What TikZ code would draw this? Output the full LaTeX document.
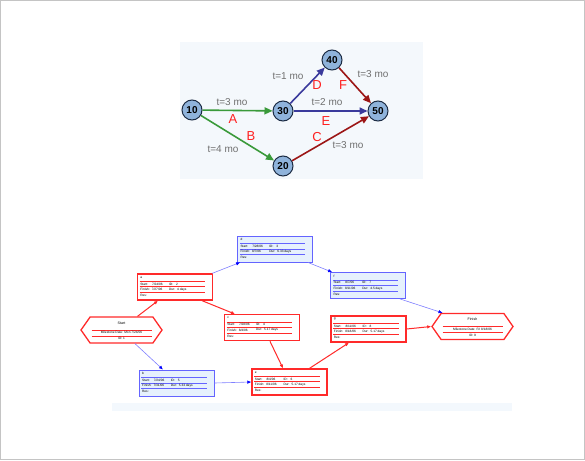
\documentclass[tikz,border=0pt]{standalone}
\usepackage{fontspec}
\setmainfont{Liberation Sans}
\usetikzlibrary{arrows.meta,shapes.symbols}

\definecolor{framegray}{HTML}{C4C4C4}
\definecolor{panelbg}{HTML}{F4F8FC}
\definecolor{stripbg}{HTML}{F3F8FD}
\definecolor{nodefill}{HTML}{8FB3DB}
\definecolor{nodeline}{HTML}{1C2C44}
\definecolor{actgreen}{HTML}{3A9A3A}
\definecolor{actblue}{HTML}{3A3A9C}
\definecolor{actred}{HTML}{9C1616}
\definecolor{durgray}{HTML}{707070}
\definecolor{letred}{HTML}{FF2020}
\definecolor{critred}{HTML}{FF2A2A}
\definecolor{taskblue}{HTML}{6464FF}
\definecolor{linkblue}{HTML}{8080FF}
\definecolor{taskfill}{HTML}{E6F1FD}

\tikzset{
  event/.style={draw=nodeline,circle,fill=nodefill,line width=1,minimum size=20,inner sep=0,
    font=\fontsize{10}{10}\selectfont\bfseries},
  act/.style={-{Triangle[length=8,width=7]},line width=1.6},
  dur/.style={text=durgray,font=\fontsize{10}{10}\selectfont,inner sep=0},
  letter/.style={text=letred,font=\fontsize{13}{13}\selectfont,inner sep=0},
  redbox/.style={draw=critred,line width=1.3,fill=white,minimum width=75,minimum height=26,inner sep=0},
  bluebox/.style={draw=taskblue,line width=0.8,fill=taskfill,minimum width=75,minimum height=26,inner sep=0},
  milestone/.style={draw=critred,line width=1.3,fill=white,shape=signal,signal to=east and west,
    signal pointer angle=110,minimum width=81,minimum height=26,inner sep=0},
  redlink/.style={critred,line width=1,-{Latex[length=4,width=3.5]}},
  bluelink/.style={linkblue,line width=0.6,-{Latex[length=4,width=3.5,color=blue]}},
  tinytext/.style={font=\fontsize{3.2}{3.2}\selectfont,inner sep=0,anchor=west},
  tinymid/.style={font=\fontsize{3.2}{3.2}\selectfont,inner sep=0},
}

% task box: name, colour, title, start, id, finish, duration
\newcommand\taskinfo[7]{%
  \draw[#2,line width=0.5]
    ([shift={(2.7,8)}]#1.north west) -- ([shift={(-7.7,8)}]#1.north east)
    ([shift={(2.7,13.3)}]#1.north west) -- ([shift={(-7.7,13.3)}]#1.north east)
    ([shift={(2.7,19)}]#1.north west) -- ([shift={(-7.7,19)}]#1.north east);
  \node[tinytext] (#1-name) at ([shift={(3.3,4)}]#1.north west) {#3};
  \node[tinytext] (#1-start) at ([shift={(3.3,10.7)}]#1.north west) {Start:\hspace{4pt}#4};
  \node[tinytext] (#1-id) at ([shift={(32,10.7)}]#1.north west) {ID:\hspace{3pt}#5};
  \node[tinytext] (#1-finish) at ([shift={(3.3,16.1)}]#1.north west) {Finish:\hspace{2pt}#6};
  \node[tinytext] (#1-dur) at ([shift={(32,16.1)}]#1.north west) {Dur:\hspace{2pt}#7};
  \node[tinytext] (#1-res) at ([shift={(3.3,22.3)}]#1.north west) {Res:};
}

% milestone: name, title, date line, id line
\newcommand\mileinfo[4]{%
  \draw[critred,line width=0.5]
    ([shift={(-30,13.5)}]#1.north) -- ([shift={(30,13.5)}]#1.north)
    ([shift={(-30,19.5)}]#1.north) -- ([shift={(30,19.5)}]#1.north);
  \node[tinymid,font=\fontsize{3.6}{3.6}\selectfont] (#1-name) at ([shift={(0,6.5)}]#1.north) {#2};
  \node[tinymid] (#1-date) at ([shift={(0,16.5)}]#1.north) {#3};
  \node[tinymid] (#1-id) at ([shift={(0,22.5)}]#1.north) {#4};
}

\begin{document}
\begin{tikzpicture}[x=1pt,y=-1pt]
\useasboundingbox (0,0) rectangle (585,460);
\fill[white] (0,0) rectangle (585,460);
\draw[framegray,line width=1] (0.5,0.5) rectangle (584.5,459.5);

% activity-on-arrow network
\fill[panelbg] (180,42) rectangle (423,179);
\node[event] (e10) at (192,110) {10};
\node[event] (e30) at (283,111) {30};
\node[event] (e40) at (332,60) {40};
\node[event] (e50) at (378,111) {50};
\node[event] (e20) at (283,166) {20};
\draw[act,actgreen] (e10) -- (e30);
\draw[act,actgreen] (e10) -- (e20);
\draw[act,actblue] (e30) -- (e40);
\draw[act,actblue] (e30) -- (e50);
\draw[act,actred] (e20) -- (e50);
\draw[act,actred] (e40) -- (e50);
\node[dur] (tA) at (232,102) {t=3 mo};
\node[letter] (lA) at (233,119) {A};
\node[dur] (tB) at (223,149) {t=4 mo};
\node[letter] (lB) at (251,136) {B};
\node[dur] (tD) at (288,76) {t=1 mo};
\node[letter] (lD) at (317,85) {D};
\node[dur] (tF) at (373,74) {t=3 mo};
\node[letter] (lF) at (343,85) {F};
\node[dur] (tE) at (327,102) {t=2 mo};
\node[letter] (lE) at (326,121) {E};
\node[dur] (tC) at (348,145) {t=3 mo};
\node[letter] (lC) at (317,137) {C};

% activity-on-node network
\fill[stripbg] (112,403) rectangle (512,411);
\node[milestone] (start) at (121.5,330) {};
\node[redbox] (a) at (175,287) {};
\node[bluebox] (b) at (176.5,383) {};
\node[redbox] (c) at (262,327.7) {};
\node[bluebox] (d) at (275,249) {};
\node[redbox] (e) at (289.5,382) {};
\node[bluebox] (f) at (368,285.5) {};
\node[redbox] (g) at (368.5,329) {};
\node[milestone] (finish) at (472.5,326.5) {};

\mileinfo{start}{Start}{Milestone Date: Mon 7/24/06}{ID: 1}
\taskinfo{a}{critred}{a}{7/24/06}{2}{7/27/06}{4 days}
\taskinfo{b}{taskblue}{b}{7/24/06}{5}{7/31/06}{5.33 days}
\taskinfo{c}{critred}{c}{7/28/06}{4}{8/4/06}{5.17 days}
\taskinfo{d}{taskblue}{d}{7/28/06}{3}{8/7/06}{6.33 days}
\taskinfo{e}{critred}{e}{8/4/06}{6}{8/11/06}{5.17 days}
\taskinfo{f}{taskblue}{f}{8/7/06}{7}{8/11/06}{4.5 days}
\taskinfo{g}{critred}{g}{8/11/06}{8}{8/18/06}{5.17 days}
\mileinfo{finish}{Finish}{Milestone Date: Fri 8/18/06}{ID: 9}

\draw[redlink] ([xshift=16]start.north) -- ([xshift=-17]a.south);
\draw[bluelink] ([xshift=13.5]start.south) -- ([xshift=-13.5]b.north);
\draw[bluelink] ([xshift=-1]a.north east) -- ([xshift=3]d.south west);
\draw[redlink] ([xshift=27]a.south) -- ([xshift=-27]c.north);
\draw[bluelink] ([xshift=-5]d.south east) -- ([xshift=2]f.north west);
\draw[bluelink] ([xshift=-6]f.south east) -- ([xshift=-30]finish.north);
\draw[redlink] ([xshift=8]c.south) -- ([xshift=-6.5]e.north);
\draw[bluelink] (b.east) -- (e.west);
\draw[redlink] ([xshift=20]e.north) -- ([xshift=-19.5]g.south);
\draw[redlink] (g.east) -- (finish.west);
\end{tikzpicture}
\end{document}
